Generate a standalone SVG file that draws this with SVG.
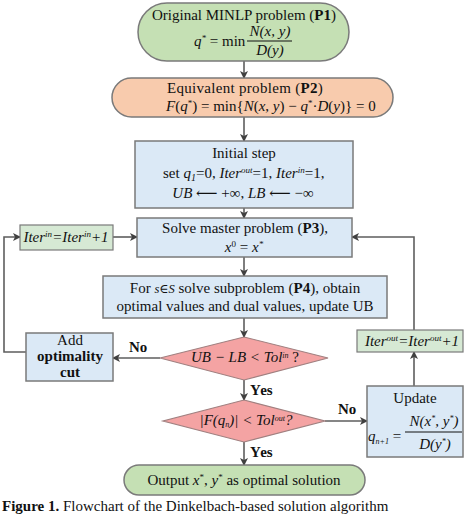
<svg xmlns="http://www.w3.org/2000/svg" width="474" height="514" viewBox="0 0 474 514" font-family="'Liberation Serif', 'Times New Roman', Times, 'DejaVu Serif', serif">
<defs>
<marker id="ah" markerWidth="8" markerHeight="8" refX="7" refY="4" orient="auto" markerUnits="userSpaceOnUse">
<path d="M0,0 L8,4 L0,8 L2,4 Z" fill="#404040"/>
</marker>
<style>
text{font-family:'Liberation Serif','Times New Roman',Times,'DejaVu Serif',serif;font-size:15px;fill:#111}
.c{text-anchor:middle}
.i{font-style:italic}
.b{font-weight:bold}
.g{fill:#c5e0b4;stroke:#7a7a7a;stroke-width:1.5}
.o{fill:#f8cbad;stroke:#7a7a7a;stroke-width:1.5}
.bl{fill:#dbe9f6;stroke:#7a7a7a;stroke-width:1.5}
.p{fill:#f4a3a3;stroke:#a08080;stroke-width:1.2}
.it{fill:#d6e9d4;stroke:#7a7a7a;stroke-width:1.2}
.ar{fill:none;stroke:#5e5e5e;stroke-width:1.6;marker-end:url(#ah)}
.fl{stroke:#111;stroke-width:1}
</style>
</defs>
<rect width="474" height="514" fill="#fff"/>
<g id="connectors">
<line class="ar" x1="244" y1="61" x2="244" y2="78"/>
<line class="ar" x1="244" y1="117" x2="244" y2="141"/>
<line class="ar" x1="244" y1="208" x2="244" y2="218"/>
<line class="ar" x1="244" y1="257" x2="244" y2="276"/>
<line class="ar" x1="244" y1="318" x2="244" y2="337"/>
<line class="ar" x1="244" y1="380" x2="244" y2="400"/>
<line class="ar" x1="244" y1="442" x2="244" y2="465"/>
<line class="ar" x1="160" y1="358" x2="113" y2="358"/>
<polyline class="ar" points="26,352 4,352 4,237 20,237"/>
<line class="ar" x1="113" y1="237" x2="137" y2="237"/>
<polyline class="ar" points="414,330 414,237 352,237"/>
<line class="ar" x1="414" y1="386" x2="414" y2="352"/>
<line class="ar" x1="325" y1="421" x2="367" y2="421"/>
<text class="b" x="129" y="352">No</text>
<text class="b" x="250" y="395">Y<tspan dx="1">es</tspan></text>
<text class="b" x="250" y="457">Y<tspan dx="1">es</tspan></text>
<text class="b" x="338" y="414">No</text>
</g>
<g id="p1">
<rect class="g" x="138" y="3" width="211" height="58" rx="29"/>
<text class="c" x="244" y="20" font-size="16">Original MINLP problem (<tspan class="b">P1</tspan>)</text>
<text class="i" x="194" y="46">q<tspan dy="-5" font-size="9">*</tspan><tspan dy="5" font-style="normal"> = min</tspan></text>
<text class="i c" x="270" y="36">N(x, y)</text>
<line class="fl" x1="247" y1="41" x2="292" y2="41"/>
<text class="i c" x="270" y="55">D(y)</text>
</g>
<g id="p2">
<rect class="o" x="112" y="78" width="281" height="39" rx="19.5"/>
<text class="c" x="245" y="93" letter-spacing="0.3">Equivalent problem (<tspan class="b">P2</tspan>)</text>
<text x="166" y="111" font-size="14"><tspan class="i">F</tspan>(<tspan class="i">q</tspan><tspan dy="-5" font-size="9">*</tspan><tspan dy="5">) = min{</tspan><tspan class="i">N</tspan>(<tspan class="i">x</tspan>, <tspan class="i">y</tspan>) − <tspan class="i">q</tspan><tspan dy="-5" font-size="9">*</tspan><tspan dy="5">·</tspan><tspan class="i">D</tspan>(<tspan class="i">y</tspan>)} = 0</text>
</g>
<g id="init">
<rect class="bl" x="135" y="141" width="218" height="67"/>
<text class="c" x="244" y="158">Initial step</text>
<text x="163" y="178" font-size="14.5">set <tspan class="i">q</tspan><tspan class="i" dy="3" font-size="10">1</tspan><tspan dy="-3">=0, </tspan><tspan class="i">Iter</tspan><tspan class="i" dy="-5" font-size="9">out</tspan><tspan dy="5">=1, </tspan><tspan class="i">Iter</tspan><tspan class="i" dy="-5" font-size="9">in</tspan><tspan dy="5">=1,</tspan></text>
<text class="c" x="243" y="198" font-size="14"><tspan class="i">UB</tspan> ⟵ +∞,  <tspan class="i">LB</tspan> ⟵ −∞</text>
</g>
<g id="master">
<rect class="bl" x="137" y="218" width="215" height="39"/>
<text class="c" x="245" y="233">Solve master problem (<tspan class="b">P3</tspan>),</text>
<text class="c i" x="244" y="252">x<tspan dy="-5" font-size="9" font-style="normal">0</tspan><tspan dy="5" font-style="normal"> = </tspan>x<tspan dy="-5" font-size="9">*</tspan></text>
</g>
<g id="iterin">
<rect class="it" x="20" y="225" width="93" height="25"/>
<text class="c i" x="66" y="242" font-size="14.5">Iter<tspan dy="-5" font-size="9">in</tspan><tspan dy="5">=Iter</tspan><tspan dy="-5" font-size="9">in</tspan><tspan dy="5">+1</tspan></text>
</g>
<g id="sub">
<rect class="bl" x="103" y="276" width="284" height="42"/>
<text class="c" x="245" y="293" font-size="15.5">For <tspan class="i" font-size="12.5">s∈S</tspan>  solve subproblem (<tspan class="b">P4</tspan>), obtain</text>
<text class="c" x="245" y="311" font-size="15.5">optimal values and dual values, update UB</text>
</g>
<g id="dec1">
<polygon class="p" points="244,337 328,358 244,380 160,358"/>
<text class="c i" x="245" y="362" font-size="12">UB − LB &lt; Tol<tspan dy="-4" font-size="8">in</tspan><tspan dy="4" font-style="normal">  ?</tspan></text>
</g>
<g id="addcut">
<rect class="bl" x="26" y="333" width="87" height="48"/>
<text class="c" x="70" y="345">Add</text>
<text class="c b" x="70" y="361">optimality</text>
<text class="c b" x="70" y="377">cut</text>
</g>
<g id="iterout">
<rect class="it" x="357" y="330" width="106" height="22"/>
<text class="c i" x="412" y="346">Iter<tspan dy="-5" font-size="9">out</tspan><tspan dy="5">=Iter</tspan><tspan dy="-5" font-size="9">out</tspan><tspan dy="5">+1</tspan></text>
</g>
<g id="dec2">
<polygon class="p" points="244,400 325,421 244,442 163,421"/>
<text class="c i" x="246" y="425" font-size="13">|F(q<tspan dy="2" font-size="8">n</tspan><tspan dy="-2">)| &lt; Tol</tspan><tspan dy="-4" font-size="8">out</tspan><tspan dy="4">?</tspan></text>
</g>
<g id="update">
<rect class="bl" x="367" y="386" width="96" height="71"/>
<text class="c" x="415" y="403" font-size="15.5">Update</text>
<text class="i" x="368" y="441">q<tspan dy="3" font-size="8">n+1</tspan><tspan dy="-3" font-style="normal"> =</tspan></text>
<text class="c i" x="434" y="426">N(x<tspan dy="-5" font-size="8">*</tspan><tspan dy="5">, y</tspan><tspan dy="-5" font-size="8">*</tspan><tspan dy="5">)</tspan></text>
<line class="fl" x1="405" y1="432" x2="462" y2="432"/>
<text class="c i" x="435" y="449">D(y<tspan dy="-5" font-size="8">*</tspan><tspan dy="5">)</tspan></text>
</g>
<g id="output">
<rect class="g" x="124" y="465" width="241" height="30" rx="15"/>
<text class="c" x="244" y="485" font-size="15.5">Output <tspan class="i">x</tspan><tspan dy="-5" font-size="9">*</tspan><tspan dy="5">, </tspan><tspan class="i">y</tspan><tspan dy="-5" font-size="9">*</tspan><tspan dy="5"> as optimal solution</tspan></text>
</g>
<text x="2" y="511" font-size="12"><tspan class="b">Figure 1.</tspan> Flowchart of the Dinkelbach-based solution algorithm</text>
</svg>
